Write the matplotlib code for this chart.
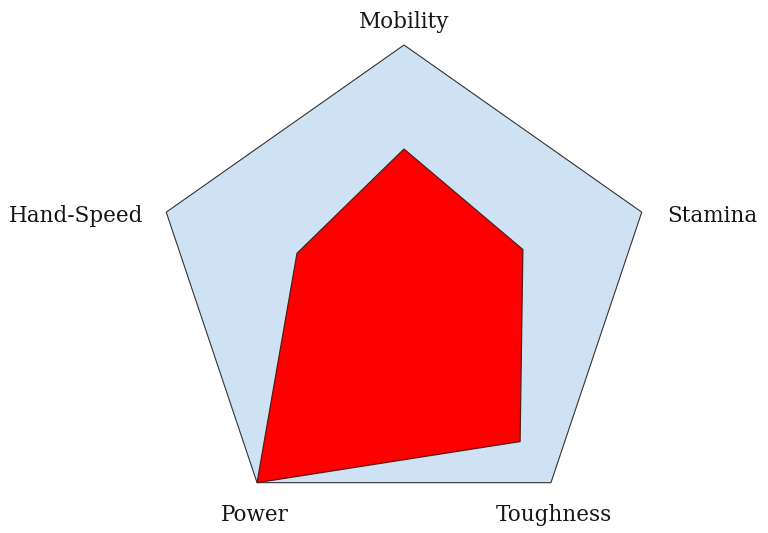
import numpy as np
import matplotlib
matplotlib.use("Agg")
import matplotlib.pyplot as plt

# Data
labels = ["Mobility", "Stamina", "Toughness", "Power", "Hand-Speed"]
values = [0.57, 0.50, 0.79, 1.00, 0.45]
max_value = 1.0

# Angles: start at the top, go clockwise
angles = np.pi / 2 - np.arange(len(labels)) * 2 * np.pi / len(labels)

fig = plt.figure(figsize=(7.68, 5.33), dpi=100)
ax = fig.add_axes([0, 0, 1, 1])

# background pentagon
ox = max_value * np.cos(angles)
oy = max_value * np.sin(angles)
ax.fill(ox, oy, facecolor="#cfe2f3", edgecolor="#333333", linewidth=0.8)

# values
v = np.array(values)
ax.fill(v * np.cos(angles), v * np.sin(angles), facecolor="#ff0000",
        edgecolor="#5a1a1a", linewidth=0.9)

# labels
offsets = {
    "Mobility": (0.0, 0.095, "center"),
    "Stamina": (0.1, -0.016, "left"),
    "Toughness": (0.012, -0.133, "center"),
    "Power": (-0.008, -0.133, "center"),
    "Hand-Speed": (-0.093, -0.016, "right"),
}
for lab, a in zip(labels, angles):
    dx, dy, ha = offsets[lab]
    ax.text(np.cos(a) + dx, np.sin(a) + dy, lab, ha=ha, va="center",
            fontsize=15.5, family="DejaVu Serif", color="#161616")

ax.set_xlim(-1.616, 1.456)
ax.set_ylim(-1.017, 1.186)
ax.axis("off")

fig.savefig("out.png", dpi=100)
